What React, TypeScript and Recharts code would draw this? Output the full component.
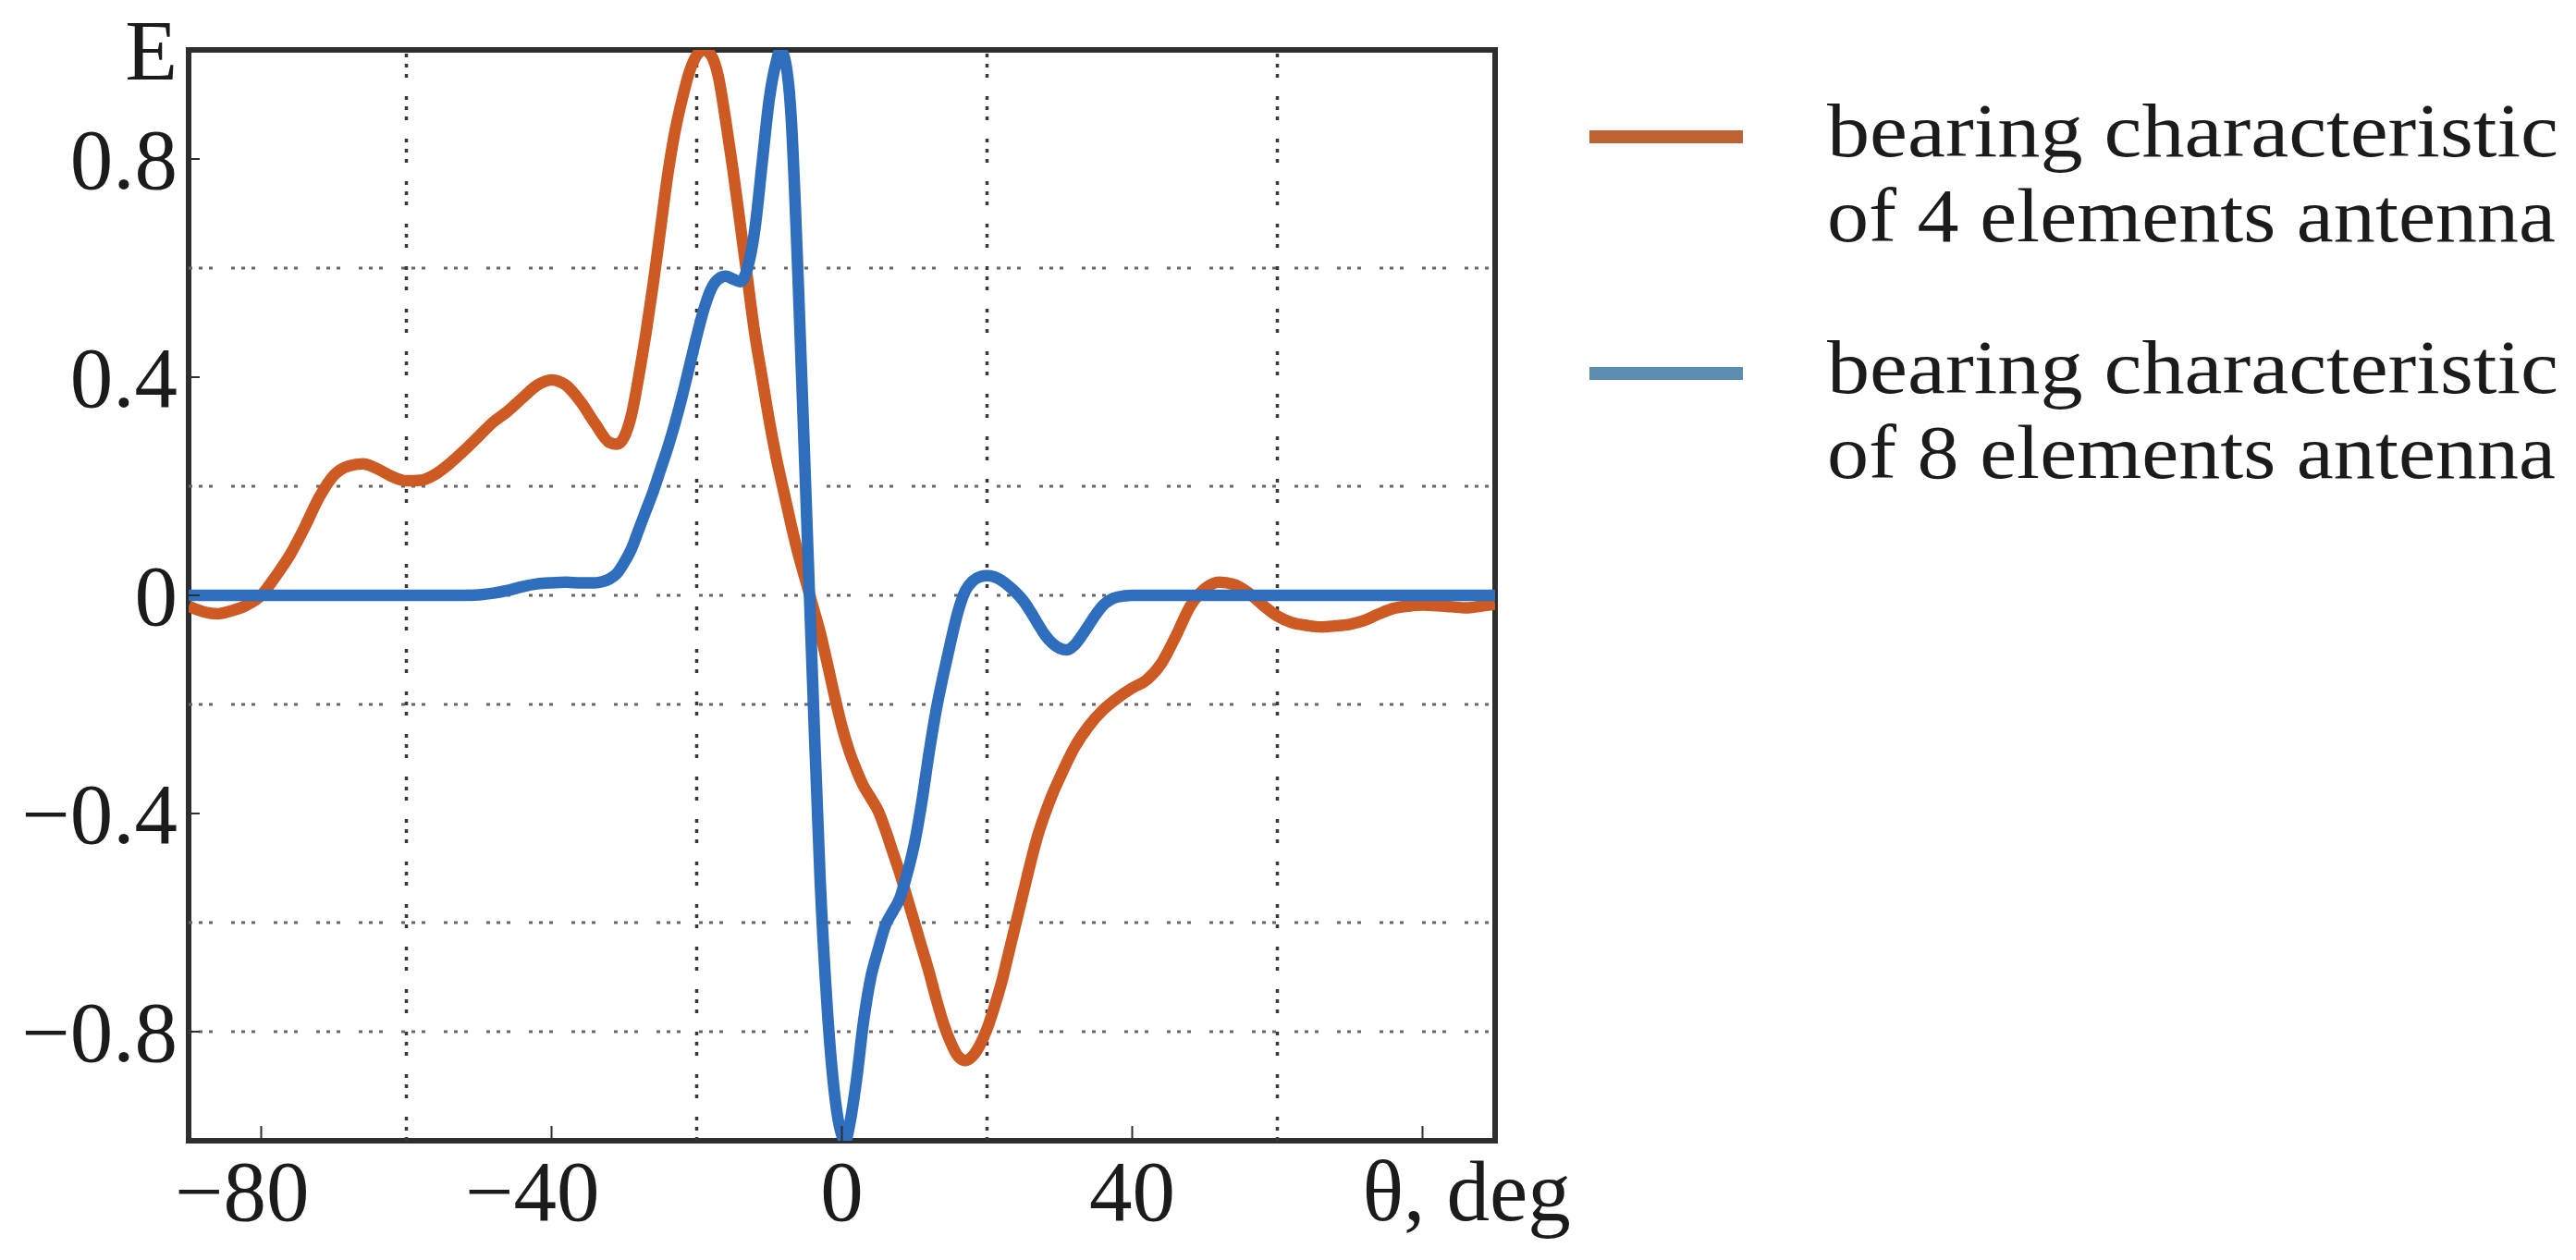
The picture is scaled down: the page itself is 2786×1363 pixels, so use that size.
import React from 'react';
import { LineChart, Line, XAxis, YAxis, ReferenceLine, ReferenceArea, Legend } from 'recharts';

// ---- data ----
const theta4 = [
  -90, -88, -86, -84, -82, -80, -78, -76, -74, -72, -70, -68, -66, -64, -62, -60, -58, -56, -54, -52,
  -50, -48, -46, -44, -42, -40, -38, -36, -34, -32, -31, -30, -29, -28, -27, -26, -25, -24, -23, -22,
  -21, -20, -19, -18, -17, -16, -15, -14, -13, -12, -11, -10, -9, -8, -7, -6, -5, -4, -3, -2,
  -1, 0, 1, 2, 3, 4, 5, 6, 7, 8, 9, 10, 11, 12, 13, 14, 15, 16, 17, 18,
  19, 20, 21, 22, 23, 24, 25, 26, 27, 28, 29, 30, 32, 34, 36, 38, 40, 42, 44, 46,
  48, 50, 52, 54, 56, 58, 60, 62, 64, 66, 68, 70, 72, 74, 76, 78, 80, 82, 84, 86, 88, 90,
];
const e4 = [
  -0.02, -0.03, -0.034, -0.028, -0.018, 0.0, 0.035, 0.075, 0.125, 0.18, 0.22, 0.237, 0.241, 0.232, 0.218, 0.21, 0.211, 0.222, 0.242, 0.266,
  0.292, 0.318, 0.338, 0.362, 0.385, 0.395, 0.385, 0.355, 0.315, 0.28, 0.277, 0.29, 0.33, 0.4, 0.48, 0.57, 0.67, 0.77, 0.85, 0.91,
  0.96, 0.99, 1.0, 0.99, 0.95, 0.87, 0.78, 0.68, 0.58, 0.48, 0.4, 0.32, 0.25, 0.19, 0.13, 0.075, 0.028, -0.02, -0.068, -0.125,
  -0.185, -0.24, -0.285, -0.32, -0.35, -0.372, -0.395, -0.43, -0.47, -0.51, -0.555, -0.6, -0.645, -0.69, -0.74, -0.785, -0.82, -0.845, -0.853, -0.845,
  -0.825, -0.795, -0.755, -0.71, -0.655, -0.6, -0.545, -0.49, -0.44, -0.4, -0.365, -0.335, -0.28, -0.24, -0.21, -0.188, -0.17, -0.155, -0.125, -0.075,
  -0.02, 0.012, 0.024, 0.02, 0.005, -0.018, -0.038, -0.05, -0.055, -0.058, -0.056, -0.053, -0.046, -0.034, -0.024, -0.02, -0.018, -0.019, -0.021, -0.023, -0.02, -0.016,
];

const theta8 = [
  -90, -80, -70, -60, -52, -50, -48, -46, -44, -42, -40, -38, -36, -34, -33, -32, -31, -30, -29, -28,
  -27, -26, -25, -24, -23, -22, -21, -20, -19, -18, -17, -16, -15, -14, -13, -12, -11, -10, -9, -8.5,
  -8, -7, -6, -5, -4, -3, -2, -1, 0, 0.5, 1, 2, 3, 4, 5, 6, 7, 8, 9, 10,
  11, 12, 13, 14, 15, 16, 17, 18, 19, 20, 21, 22, 23, 24, 25, 26, 27, 28, 29, 30,
  31, 32, 33, 34, 35, 36, 37, 38, 40, 50, 60, 70, 80, 90,
];
const e8 = [
  0, 0, 0, 0, 0, 0.001, 0.004, 0.009, 0.016, 0.021, 0.023, 0.024, 0.023, 0.023, 0.025, 0.03, 0.04, 0.06, 0.085, 0.12,
  0.155, 0.19, 0.23, 0.27, 0.315, 0.365, 0.42, 0.475, 0.525, 0.562, 0.58, 0.585, 0.58, 0.575, 0.6, 0.67, 0.79, 0.91, 0.98, 1.0,
  0.99, 0.88, 0.57, 0.2, -0.17, -0.52, -0.76, -0.915, -0.99, -1.0, -0.975, -0.89, -0.78, -0.7, -0.65, -0.605, -0.58, -0.555, -0.51, -0.455,
  -0.38, -0.29, -0.21, -0.145, -0.085, -0.03, 0.008, 0.026, 0.034, 0.036, 0.034, 0.027, 0.017, 0.005, -0.01, -0.03, -0.052, -0.073, -0.088, -0.097,
  -0.1, -0.092, -0.075, -0.055, -0.035, -0.018, -0.008, -0.003, 0, 0, 0, 0, 0, 0,
];

const xTicks = [-80, -40, 0, 40, 80];
const xTickLabels = ['\u221280', '\u221240', '0', '40', '\u03b8, deg'];
const yTicks = [1, 0.8, 0.4, 0, -0.4, -0.8];
const yTickLabels = ['E', '0.8', '0.4', '0', '\u22120.4', '\u22120.8'];
const xGrid = [-60, -20, 20, 60];
const yGrid = [0.6, 0.2, 0, -0.2, -0.6, -0.8];

const legend4 = ['bearing characteristic', 'of 4 elements antenna'];
const legend8 = ['bearing characteristic', 'of 8 elements antenna'];

// ---- styles ----
const FONT = '"Liberation Serif", "Times New Roman", serif';
const ORANGE = '#CC5A22';
const BLUE = '#2E6EBD';
const ORANGE_SW = '#BE6231';
const BLUE_SW = '#5B8DB0';
const TEXT = '#1b1b1b';
const FRAME = '#2e2e2e';

const data4 = theta4.map((t, i) => ({ t, v: e4[i] }));
const data8 = theta8.map((t, i) => ({ t, v: e8[i] }));

const BottomTick = (props: any) => {
  const { x, y, payload } = props;
  const i = xTicks.indexOf(payload.value);
  const label = xTickLabels[i];
  let anchor: any = 'middle';
  let tx = x;
  if (payload.value < 0) {
    anchor = 'end';
    tx = x + 52;
  }
  if (i === xTicks.length - 1) {
    anchor = 'start';
    tx = x - 65;
  }
  return (
    <g>
      <line x1={x} y1={y} x2={x} y2={y - 16} stroke={FRAME} strokeWidth={2} />
      <text x={tx} y={y + 86} textAnchor={anchor} fontSize={93} fontFamily={FONT} fill={TEXT}>
        {label}
      </text>
    </g>
  );
};

const TopTick = (props: any) => {
  const { x, y } = props;
  return <line x1={x} y1={y} x2={x} y2={y + 16} stroke={FRAME} strokeWidth={2} />;
};

const LeftTick = (props: any) => {
  const { x, y, payload } = props;
  const i = yTicks.indexOf(payload.value);
  return (
    <g>
      {payload.value !== 1 && <line x1={x} y1={y} x2={x + 12} y2={y} stroke={FRAME} strokeWidth={2} />}
      <text x={x - 12} y={y + 32} textAnchor="end" fontSize={93} fontFamily={FONT} fill={TEXT}>
        {yTickLabels[i]}
      </text>
    </g>
  );
};

const RightTick = (props: any) => {
  const { x, y, payload } = props;
  if (payload.value === 1) return <g />;
  return <line x1={x} y1={y} x2={x - 12} y2={y} stroke={FRAME} strokeWidth={2} />;
};

const renderLegend = () => {
  const entries = [
    { lines: legend4, color: ORANGE_SW },
    { lines: legend8, color: BLUE_SW },
  ];
  return (
    <svg width={1067} height={450} style={{ display: 'block', overflow: 'visible' }}>
      {entries.map((e, i) => {
        const top = i * 256;
        return (
          <g key={i}>
            <rect x={0} y={top + 49} width={166} height={14} fill={e.color} />
            <text
              x={257}
              y={top + 77}
              fontSize={82}
              fontFamily={FONT}
              fill={TEXT}
              textLength={791}
              lengthAdjust="spacingAndGlyphs"
            >
              {e.lines[0]}
            </text>
            <text
              x={257}
              y={top + 169}
              fontSize={82}
              fontFamily={FONT}
              fill={TEXT}
              textLength={788}
              lengthAdjust="spacingAndGlyphs"
            >
              {e.lines[1]}
            </text>
          </g>
        );
      })}
    </svg>
  );
};

export default function App() {
  return (
    <div style={{ position: 'absolute', left: 0, top: 0, width: 2786, height: 1363, background: '#fff' }}>
      <LineChart width={2786} height={1363} margin={{ top: 54, right: 1169, bottom: 0, left: 0 }}>
        <XAxis
          dataKey="t"
          type="number"
          domain={[-90, 90]}
          ticks={xTicks}
          allowDataOverflow
          height={129}
          axisLine={false}
          tickLine={false}
          tickSize={0}
          tickMargin={0}
          tick={<BottomTick />}
          interval={0}
        />
        <XAxis
          xAxisId="top"
          orientation="top"
          dataKey="t"
          type="number"
          domain={[-90, 90]}
          ticks={xTicks}
          allowDataOverflow
          height={0}
          axisLine={false}
          tickLine={false}
          tickSize={0}
          tickMargin={0}
          tick={<TopTick />}
          interval={0}
        />
        <YAxis
          type="number"
          domain={[-1, 1]}
          ticks={yTicks}
          allowDataOverflow
          width={204}
          axisLine={false}
          tickLine={false}
          tickSize={0}
          tickMargin={0}
          tick={<LeftTick />}
          interval={0}
        />
        <YAxis
          yAxisId="r"
          orientation="right"
          type="number"
          domain={[-1, 1]}
          ticks={yTicks}
          allowDataOverflow
          width={0}
          axisLine={false}
          tickLine={false}
          tickSize={0}
          tickMargin={0}
          tick={<RightTick />}
          interval={0}
        />
        {yGrid.map((g) => (
          <ReferenceLine key={'h' + g} y={g} stroke="#666" strokeWidth={3} strokeDasharray="4 7 4 7 4 20" />
        ))}
        {xGrid.map((g) => (
          <ReferenceLine key={'v' + g} x={g} stroke="#383838" strokeWidth={3.5} strokeDasharray="4 7 4 7 4 20" />
        ))}
        <ReferenceArea x1={-90} x2={90} y1={-1} y2={1} fill="none" stroke={FRAME} strokeWidth={6} ifOverflow="visible" />
        <Line
          data={data4}
          dataKey="v"
          type="monotone"
          stroke={ORANGE}
          strokeWidth={12.5}
          dot={false}
          activeDot={false}
          isAnimationActive={false}
        />
        <Line
          data={data8}
          dataKey="v"
          type="monotone"
          stroke={BLUE}
          strokeWidth={12.5}
          dot={false}
          activeDot={false}
          isAnimationActive={false}
        />
        <Legend
          layout="horizontal"
          verticalAlign="middle"
          align="center"
          content={renderLegend}
          wrapperStyle={{ left: 1719, top: 92, width: 1067, height: 450 }}
        />
      </LineChart>
    </div>
  );
}
